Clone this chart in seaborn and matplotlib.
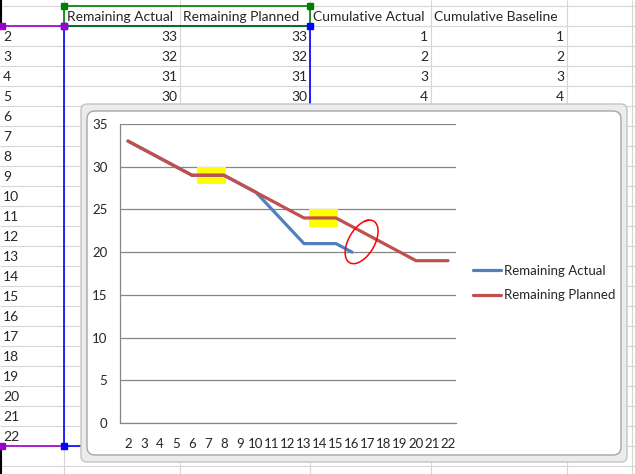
import numpy as np
import pandas as pd
import matplotlib
matplotlib.use("Agg")
import matplotlib.pyplot as plt
import matplotlib.transforms as mtransforms
from matplotlib.patches import Rectangle, FancyBboxPatch
import seaborn as sns

# chart data (days are the row numbers in column A)
days = list(range(2, 23))
remaining_actual = [33, 32, 31, 30, 29, 29, 29, 28, 27, 25, 23, 21, 21, 21, 20,
                    None, None, None, None, None, None]
remaining_planned = [33, 32, 31, 30, 29, 29, 29, 28, 27, 26, 25, 24, 24, 24, 23,
                     22, 21, 20, 19, 19, 19]

# visible part of the sheet
headers = ["Remaining Actual", "Remaining Planned", "Cumulative Actual", "Cumulative Baseline"]
cumulative_actual = [1, 2, 3, 4]
cumulative_baseline = [1, 2, 3, 4]

# hand markup on the chart: flat stretches highlighted (first day, last day, value)
highlights = [(7, 8, 29), (14, 15, 24)]
circled = (16.6, 21.2)

blue = "#4F81BD"
red = "#C0504D"

sns.set_style("white")
plt.rcParams["font.family"] = ["Lato", "DejaVu Sans"]

fig = plt.figure(figsize=(6.35, 4.74), dpi=100)

# ---- spreadsheet behind the chart (pixel coordinates) ----
bg = fig.add_axes([0, 0, 1, 1])
bg.set_xlim(0, 635)
bg.set_ylim(474, 0)
bg.axis("off")

col_edges = [64, 180, 310, 431, 567, 632]
row_edges = list(range(6, 474, 20))
bg.vlines(col_edges, 0, 474, color="#d6d6d6", lw=0.8, zorder=1)
bg.hlines(row_edges, 0, 635, color="#d6d6d6", lw=0.8, zorder=1)
bg.vlines(0.5, 0, 26, color="black", lw=1.5, zorder=2)
bg.vlines(0.5, 446, 474, color="black", lw=1.5, zorder=2)

for i, h in enumerate(headers):
    bg.text(col_edges[i] + 3, 17, h, ha="left", va="center", fontsize=10, zorder=3)

for i, d in enumerate(days):
    bg.text(3, 37 + 20 * i, str(d), ha="left", va="center", fontsize=10, zorder=3)

sheet_cols = [remaining_actual[:4], remaining_planned[:4], cumulative_actual, cumulative_baseline]
for c, vals in enumerate(sheet_cols):
    for i, v in enumerate(vals):
        bg.text(col_edges[c + 1] - 3, 37 + 20 * i, str(v), ha="right", va="center",
                fontsize=10, zorder=3)

# range selection outlines
bg.plot([0, 64], [26, 26], color="#9900CC", lw=1.2, zorder=4)
bg.plot([0, 64], [446, 446], color="#9900CC", lw=1.2, zorder=4)
bg.plot([64, 64], [26, 446], color="#0000FF", lw=1.2, zorder=4)
bg.plot([64, 310], [26, 26], color="#0000FF", lw=1.2, zorder=4)
bg.plot([310, 310], [26, 110], color="#0000FF", lw=1.2, zorder=4)
bg.plot([64, 90], [446, 446], color="#0000FF", lw=1.2, zorder=4)
bg.plot([64, 310, 310, 64, 64], [6, 6, 26, 26, 6], color="#008000", lw=1.2, zorder=4)
bg.plot([64, 310], [6, 6], ls="none", marker="s", ms=4, color="#008000", zorder=5)
bg.plot([64, 310], [26, 26], ls="none", marker="s", ms=4, color="#0000FF", zorder=5)
bg.plot([64], [446], ls="none", marker="s", ms=4, color="#0000FF", zorder=5)
bg.plot([2, 64], [26, 26], ls="none", marker="s", ms=4, color="#9900CC", zorder=5)
bg.plot([2], [446], ls="none", marker="s", ms=4, color="#9900CC", zorder=5)

# chart object frame
bg.add_patch(FancyBboxPatch((81, 104), 546, 358, boxstyle="round,pad=0,rounding_size=6",
                            facecolor="#ececec", edgecolor="#c4c4c4", lw=1, zorder=6))
bg.add_patch(FancyBboxPatch((87, 111), 534, 344, boxstyle="round,pad=0,rounding_size=8",
                            facecolor="white", edgecolor="#a6a6a6", lw=1, zorder=7))

# ---- the chart ----
ax = fig.add_axes([120 / 635, 1 - 423 / 474, 336 / 635, 299 / 474])
ax.set_facecolor("none")

df = pd.DataFrame({
    "day": days * 2,
    "value": remaining_actual + remaining_planned,
    "series": ["Remaining Actual"] * len(days) + ["Remaining Planned"] * len(days),
})
df["value"] = pd.to_numeric(df["value"])

sns.lineplot(data=df, x="day", y="value", hue="series",
             hue_order=["Remaining Actual", "Remaining Planned"],
             palette={"Remaining Actual": blue, "Remaining Planned": red},
             linewidth=2.3, ax=ax, zorder=4)

for d0, d1, v in highlights:
    ax.add_patch(Rectangle((d0 - 0.7, v - 1.0), d1 - d0 + 0.8, 2.0,
                           facecolor="#FFFF00", edgecolor="none", zorder=3))

# hand drawn loop around where the actual line stops
t = np.linspace(0.4, 2 * np.pi + 0.6, 120)
a, b, ang = 0.24, 0.13, np.deg2rad(60)
ex = a * np.cos(t) * np.cos(ang) - b * np.sin(t) * np.sin(ang)
ey = a * np.cos(t) * np.sin(ang) + b * np.sin(t) * np.cos(ang)
loop_tr = fig.dpi_scale_trans + mtransforms.ScaledTranslation(circled[0], circled[1], ax.transData)
ax.plot(ex, ey, color="#FF0000", lw=1.1, transform=loop_tr, zorder=5, clip_on=False)

ax.set_xlim(days[0] - 0.5, days[-1] + 0.5)
ax.set_ylim(0, 35)
ax.set_yticks(range(0, 36, 5))
ax.set_xticks(days)
ax.set_xticks([d + 0.5 for d in [days[0] - 1] + days], minor=True)
ax.yaxis.grid(True, color="#868686", lw=0.9)
ax.set_axisbelow(True)
ax.set_xlabel("")
ax.set_ylabel("")
for s in ["top", "right"]:
    ax.spines[s].set_visible(False)
for s in ["left", "bottom"]:
    ax.spines[s].set_color("#868686")
    ax.spines[s].set_linewidth(0.9)
ax.tick_params(axis="x", which="major", length=0, pad=11, labelsize=9.5)
ax.tick_params(axis="x", which="minor", length=5, width=0.9, color="#868686", direction="out")
ax.tick_params(axis="y", length=0, pad=9, labelsize=9.5)

handles, labels = ax.get_legend_handles_labels()
ax.legend(handles, labels, loc="center left", bbox_to_anchor=(1.05, 0.468),
          frameon=False, fontsize=9.5, handlelength=2.1, handletextpad=0.25,
          labelspacing=0.95, borderpad=0, borderaxespad=0)

fig.savefig("out.png", dpi=100)
